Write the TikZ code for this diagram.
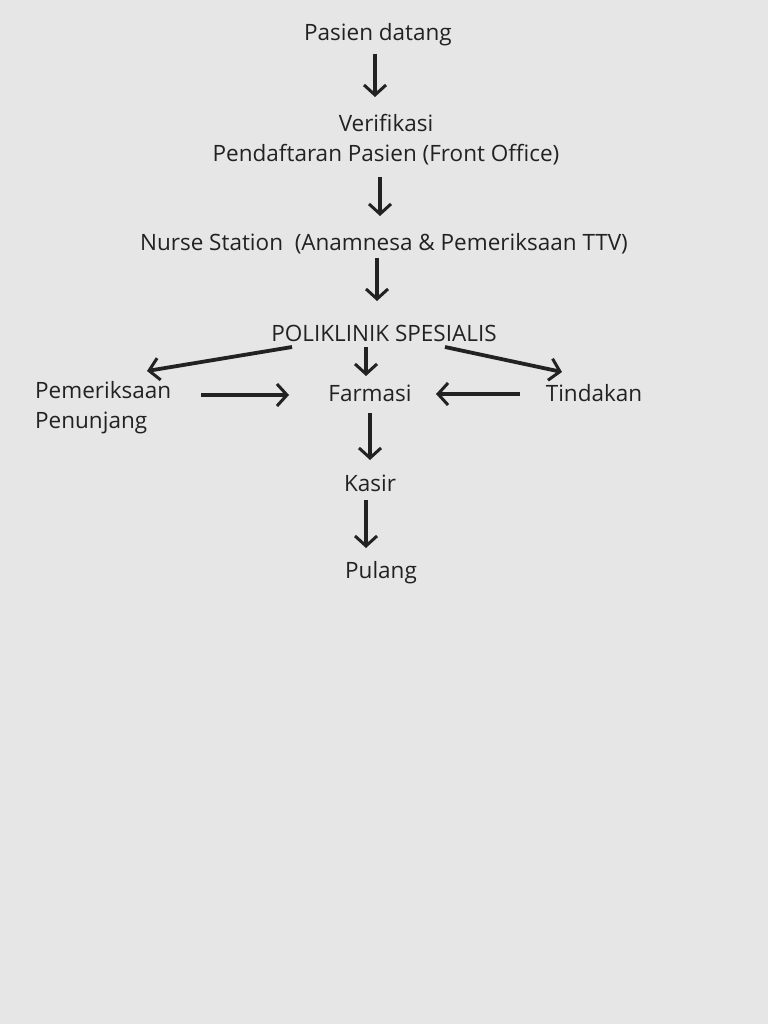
\documentclass[tikz,border=0pt]{standalone}
\usepackage{fontspec}
\setmainfont{Open Sans}
\usetikzlibrary{arrows.meta}
\definecolor{bg}{HTML}{E6E6E6}
\definecolor{ink}{HTML}{222222}
\begin{document}
\begin{tikzpicture}[x=1pt,y=-1pt,
  lbl/.style={inner sep=0pt,text=ink,font=\fontsize{22.5}{30}\selectfont},
  arr/.style={draw=ink,line width=3.8pt,-{Straight Barb[length=10pt,width=22pt,line width=3pt]}}]
\fill[bg] (0,0) rectangle (768,1024);
\useasboundingbox (0,0) rectangle (768,1024);
\node[lbl] (a) at (378,35) {Pasien datang};
\node[lbl,align=center] (b) at (386,140) {Verifikasi\\Pendaftaran Pasien (Front Office)};
\node[lbl] (c) at (384,244) {Nurse Station\ \ (Anamnesa \& Pemeriksaan TTV)};
\node[lbl] (d) at (384,333) {POLIKLINIK SPESIALIS};
\node[lbl,align=left,anchor=west] (e) at (35,408) {Pemeriksaan\\Penunjang};
\node[lbl] (f) at (370,393) {Farmasi};
\node[lbl] (g) at (594,393) {Tindakan};
\node[lbl] (h) at (370,483) {Kasir};
\node[lbl] (i) at (381,573) {Pulang};
\coordinate (a1) at (375,54); \coordinate (a2) at (375,97);
\coordinate (b1) at (380,177); \coordinate (b2) at (380,216);
\coordinate (c1) at (377,258); \coordinate (c2) at (377,301);
\coordinate (d1) at (292,347); \coordinate (e1) at (147,371);
\coordinate (d2) at (366,347); \coordinate (f1) at (366,376);
\coordinate (d3) at (445,347); \coordinate (g1) at (562,372);
\coordinate (e2) at (201,395); \coordinate (f2) at (289,395);
\coordinate (g2) at (520,394); \coordinate (f3) at (436,394);
\coordinate (f4) at (370,413); \coordinate (h1) at (370,460);
\coordinate (h2) at (366,500); \coordinate (i1) at (366,548);
\draw[arr] (a1) -- (a2);
\draw[arr] (b1) -- (b2);
\draw[arr] (c1) -- (c2);
\draw[arr] (d1) -- (e1);
\draw[arr] (d2) -- (f1);
\draw[arr] (d3) -- (g1);
\draw[arr] (e2) -- (f2);
\draw[arr] (g2) -- (f3);
\draw[arr] (f4) -- (h1);
\draw[arr] (h2) -- (i1);
\end{tikzpicture}
\end{document}
